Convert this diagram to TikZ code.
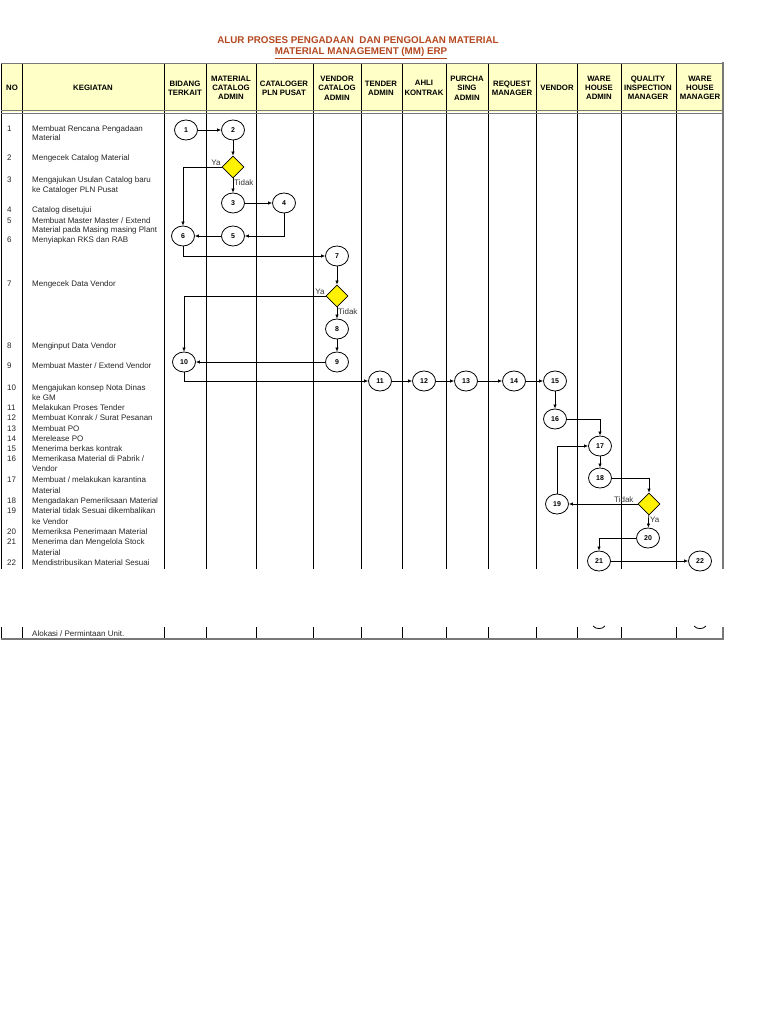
\documentclass[tikz,border=0pt]{standalone}
\usepackage{fontspec}
\setmainfont{Liberation Sans}
\usetikzlibrary{shapes.geometric,arrows.meta}
\definecolor{judul}{RGB}{180,72,32}
\definecolor{kepala}{RGB}{255,255,200}
\definecolor{garis}{RGB}{120,120,120}
\begin{document}
\begin{tikzpicture}[x=1pt, y=-1pt,
    every node/.style={font=\fontsize{8}{9.3}\selectfont},
    proses/.style={ellipse, draw, line width=0.8pt, minimum width=23, minimum height=20, inner sep=0pt, font=\fontsize{7}{8}\selectfont\bfseries},
    keputusan/.style={diamond, draw, fill=yellow, line width=0.7pt, minimum width=22, minimum height=22, inner sep=0pt},
    panah/.style={-{Latex[length=4pt,width=3.5pt]}, line width=0.7pt},
    kolom/.style={align=center, font=\fontsize{7.8}{9.3}\selectfont\bfseries},
    teks/.style={anchor=base west, inner sep=0pt, yshift=-3pt, text=black!85},
    cabang/.style={inner sep=1pt, text=black!80}]
    \useasboundingbox (0,0) rectangle (768,1024);

    % --- JUDUL ---
    \node[font=\fontsize{9.8}{11}\selectfont\bfseries, text=judul] (judul1) at (358,40) {ALUR PROSES PENGADAAN\ \ DAN PENGOLAAN MATERIAL};
    \node[font=\fontsize{9.8}{11}\selectfont\bfseries, text=judul] (judul2) at (361,53) {\underline{MATERIAL MANAGEMENT (MM) ERP}};

    % --- KEPALA TABEL ---
    \fill[kepala] (1,63) rectangle (723,112);
    \foreach \x/\nama/\isi in {12/no/NO, 93/keg/KEGIATAN, 185/bid/{BIDANG\\TERKAIT},
        231/mca/{MATERIAL\\CATALOG\\ADMIN}, 284/cpp/{CATALOGER\\PLN PUSAT}, 337/vca/{VENDOR\\CATALOG\\ADMIN},
        381/ten/{TENDER\\ADMIN}, 424/ahl/{AHLI\\KONTRAK}, 467/pur/{PURCHA\\SING\\ADMIN},
        512/req/{REQUEST\\MANAGER}, 557/ven/VENDOR, 599/wha/{WARE\\HOUSE\\ADMIN},
        648/qim/{QUALITY\\INSPECTION\\MANAGER}, 700/whm/{WARE\\HOUSE\\MANAGER}}
        \node[kolom] (h-\nama) at (\x,88) {\isi};

    % --- GARIS KOLOM ---
    \foreach \x in {1,22,164,206,256,313,361,402,446,488,536,577,621,676} {
        \draw[line width=0.8pt] (\x,63) -- (\x,569);
        \draw[line width=0.8pt] (\x,627) -- (\x,639);
    }
    \draw[garis, line width=2.5pt] (723,62) -- (723,569);
    \draw[garis, line width=2.5pt] (723,627) -- (723,640);
    \draw[garis, line width=1.6pt] (1,63.5) -- (724,63.5);
    \draw[garis, line width=1pt] (1,111) -- (723,111);
    \draw[garis, line width=1pt] (1,113.5) -- (723,113.5);
    \draw[garis, line width=2pt] (1,639) -- (724,639);

    % --- DAFTAR KEGIATAN ---
    \foreach \n/\y/\isi in {1/129/{Membuat Rencana Pengadaan}, /138/{Material},
        2/158/{Mengecek Catalog Material},
        3/180/{Mengajukan Usulan Catalog baru}, /190/{ke Cataloger PLN Pusat},
        4/210/{Catalog disetujui},
        5/220/{Membuat Master Master / Extend}, /230/{Material pada Masing masing Plant},
        6/240/{Menyiapkan RKS dan RAB},
        7/283/{Mengecek Data Vendor},
        8/345/{Menginput Data Vendor},
        9/365/{Membuat Master / Extend Vendor},
        10/387/{Mengajukan konsep Nota Dinas}, /397/{ke GM},
        11/407/{Melakukan Proses Tender},
        12/417/{Membuat Konrak / Surat Pesanan},
        13/428/{Membuat PO},
        14/438/{Merelease PO},
        15/448/{Menerima berkas kontrak},
        16/458/{Memerikasa Material di Pabrik /}, /468/{Vendor},
        17/479/{Membuat / melakukan karantina}, /490/{Material},
        18/500/{Mengadakan Pemeriksaan Material},
        19/510/{Material tidak Sesuai dikembalikan}, /521/{ke Vendor},
        20/531/{Memeriksa Penerimaan Material},
        21/541/{Menerima dan Mengelola Stock}, /552/{Material},
        22/562/{Mendistribusikan Material Sesuai},
        /633/{Alokasi / Permintaan Unit.}} {
        \node[teks] (no-\y) at (7,\y) {\n};
        \node[teks] (keg-\y) at (32,\y) {\isi};
    }

    % --- ALUR PROSES ---
    \node[proses] (n1) at (186,130) {1};
    \node[proses] (n2) at (233,130) {2};
    \node[keputusan] (d1) at (233,167) {};
    \node[proses] (n3) at (233,203) {3};
    \node[proses] (n4) at (284,203) {4};
    \node[proses] (n5) at (233,236) {5};
    \node[proses] (n6) at (183,236) {6};
    \node[proses] (n7) at (337,256) {7};
    \node[keputusan] (d2) at (337,296) {};
    \node[proses] (n8) at (337,329) {8};
    \node[proses] (n9) at (337,362) {9};
    \node[proses] (n10) at (184,362) {10};
    \node[proses] (n11) at (380,381) {11};
    \node[proses] (n12) at (424,381) {12};
    \node[proses] (n13) at (466,381) {13};
    \node[proses] (n14) at (514,381) {14};
    \node[proses] (n15) at (555,381) {15};
    \node[proses] (n16) at (555,419) {16};
    \node[proses] (n17) at (600,446) {17};
    \node[proses] (n18) at (600,478) {18};
    \node[keputusan] (d3) at (649,504) {};
    \node[proses] (n19) at (557,504) {19};
    \node[proses] (n20) at (648,538) {20};
    \node[proses] (n21) at (599,561) {21};
    \node[proses] (n22) at (700,561) {22};

    % --- PANAH ---
    \draw[panah] (n1) -- (n2);
    \draw[panah] (n2) -- (d1);
    \draw[panah] (d1.west) -| (n6.north);
    \node[cabang, anchor=south east] (ya1) at (d1.west) {Ya};
    \draw[panah] (d1) -- (n3);
    \node[cabang, anchor=north west] (tidak1) at (d1.south) {Tidak};
    \draw[panah] (n3) -- (n4);
    \draw[panah] (n4.south) |- (n5.east);
    \draw[panah] (n5) -- (n6);
    \draw[panah] (n6.south) |- (n7.west);
    \draw[panah] (n7) -- (d2);
    \draw[panah] (d2.west) -| (n10.north);
    \node[cabang, anchor=south east] (ya2) at (d2.west) {Ya};
    \draw[panah] (d2) -- (n8);
    \node[cabang, anchor=north west] (tidak2) at (d2.south) {Tidak};
    \draw[panah] (n8) -- (n9);
    \draw[panah] (n9) -- (n10);
    \draw[panah] (n10.south) |- (n11.west);
    \draw[panah] (n11) -- (n12);
    \draw[panah] (n12) -- (n13);
    \draw[panah] (n13) -- (n14);
    \draw[panah] (n14) -- (n15);
    \draw[panah] (n15) -- (n16);
    \draw[panah] (n16.east) -| (n17.north);
    \draw[panah] (n17) -- (n18);
    \draw[panah] (n18.east) -| (d3.north);
    \draw[panah] (d3) -- (n19);
    \node[cabang, anchor=south east, xshift=-3pt] (tidak3) at (d3.west) {Tidak};
    \draw[panah] (n19.north) |- (n17.west);
    \draw[panah] (d3) -- (n20);
    \node[cabang, anchor=north west] (ya3) at (d3.south) {Ya};
    \draw[panah] (n20.west) -| (n21.north);
    \draw[panah] (n21) -- (n22);

    % sisa lingkaran di bawah jeda halaman
    \draw[line width=0.8pt] (593,626) .. controls (596,629.5) and (602,629.5) .. (605,626);
    \draw[line width=0.8pt] (694,626) .. controls (697,629.5) and (703,629.5) .. (706,626);
\end{tikzpicture}
\end{document}
